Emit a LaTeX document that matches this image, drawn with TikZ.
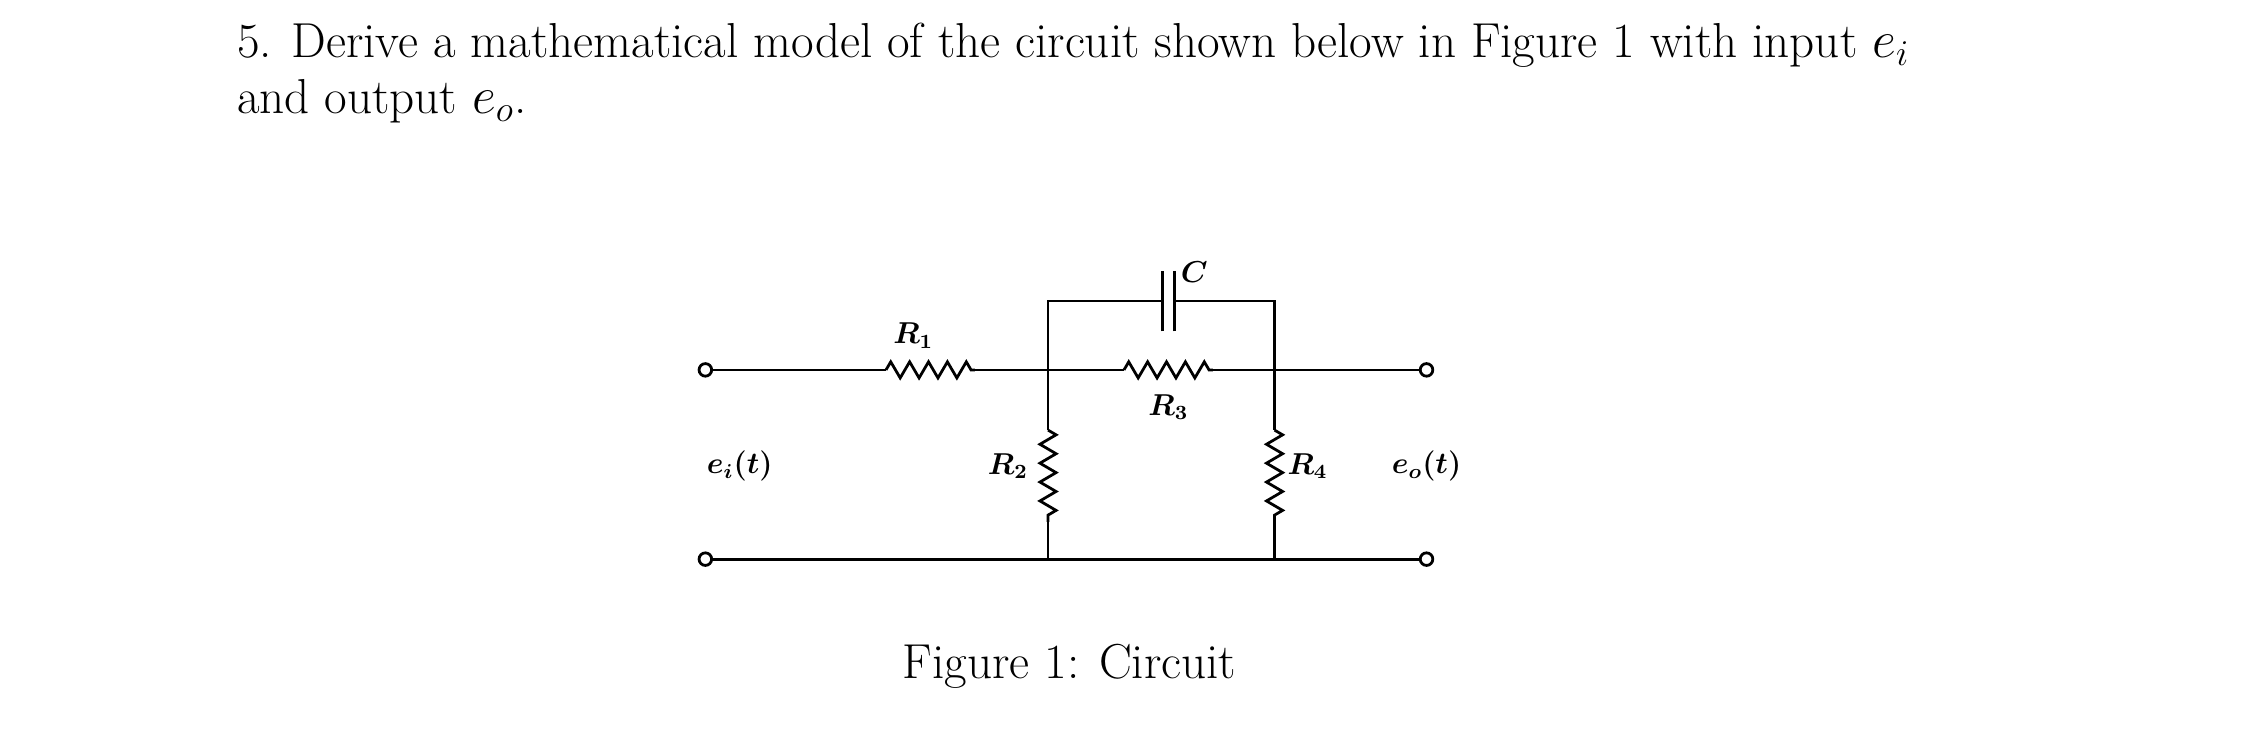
\documentclass[tikz,border=0pt]{standalone}
\usepackage{amsmath}
\usepackage{fontspec}
\newfontfamily\labelfont{Liberation Serif}
\usetikzlibrary{positioning,decorations.pathmorphing}
\begin{document}
\begin{tikzpicture}[
        x=0.02cm, y=-0.02cm,
        wire/.style = {draw, line width=1.1pt},
        resistor/.style = {wire, decorate, decoration={zigzag, segment length=7.5pt, amplitude=3.2pt}},
        terminal/.style = {circle, draw, line width=1.1pt, fill=white, inner sep=0pt, minimum size=5pt},
        lbl/.style = {font=\labelfont\bfseries\itshape\fontsize{12}{14}\selectfont, inner sep=1pt}
    ]
    \useasboundingbox (0,0) rectangle (1568,510);

    % problem text
    \node [anchor=north west, align=left, font=\fontsize{19.5}{22}\selectfont, inner sep=0pt] (task) at (165,16)
        {5. Derive a mathematical model of the circuit shown below in Figure 1 with input $e_i$\\and output $e_o$.};

    % terminals and junctions
    \node [terminal] (tL) at (492,258) {};
    \node [terminal] (bL) at (492,390) {};
    \node [terminal] (tR) at (995,258) {};
    \node [terminal] (bR) at (995,390) {};
    \coordinate (n2) at (731,258);
    \coordinate (n4) at (889,258);
    \coordinate (g2) at (731,390);
    \coordinate (g4) at (889,390);
    \coordinate (c2) at (731,210);
    \coordinate (c4) at (889,210);

    % resistor ends
    \coordinate (r1a) at (618,258);
    \coordinate (r1b) at (680,258);
    \coordinate (r3a) at (784,258);
    \coordinate (r3b) at (846,258);
    \coordinate (r2a) at (731,300);
    \coordinate (r2b) at (731,364);
    \coordinate (r4a) at (889,300);
    \coordinate (r4b) at (889,364);
    \coordinate (ca) at (811,210);
    \coordinate (cb) at (819,210);

    % wires
    \path [wire] (tL) -- (r1a);
    \path [resistor] (r1a) -- (r1b);
    \path [wire] (r1b) -- (r3a);
    \path [resistor] (r3a) -- (r3b);
    \path [wire] (r3b) -- (tR);
    \path [wire] (bL) -- (bR);
    \path [wire] (n2) -- (r2a);
    \path [resistor] (r2a) -- (r2b);
    \path [wire] (r2b) -- (g2);
    \path [wire] (n4) -- (r4a);
    \path [resistor] (r4a) -- (r4b);
    \path [wire] (r4b) -- (g4);
    \path [wire] (n2) -- (c2) -- (ca);
    \path [wire] (cb) -- (c4) -- (n4);
    \path [wire] ([yshift=-12]ca) -- ([yshift=12]ca);
    \path [wire] ([yshift=-12]cb) -- ([yshift=12]cb);

    % labels
    \node [lbl] (lR1) at (637,234) {$\boldsymbol{R_1}$};
    \node [lbl] (lR3) at (815,284) {$\boldsymbol{R_3}$};
    \node [lbl] (lR2) at (703,325) {$\boldsymbol{R_2}$};
    \node [lbl] (lR4) at (912,325) {$\boldsymbol{R_4}$};
    \node [lbl] (lC) at (833,190) {$\boldsymbol{C}$};
    \node [lbl] (lei) at (516,325) {$\boldsymbol{e_i(t)}$};
    \node [lbl] (leo) at (995,325) {$\boldsymbol{e_o(t)}$};

    % caption
    \node [font=\fontsize{19.5}{24}\selectfont] (cap) at (746,465) {Figure 1: Circuit};
\end{tikzpicture}
\end{document}
